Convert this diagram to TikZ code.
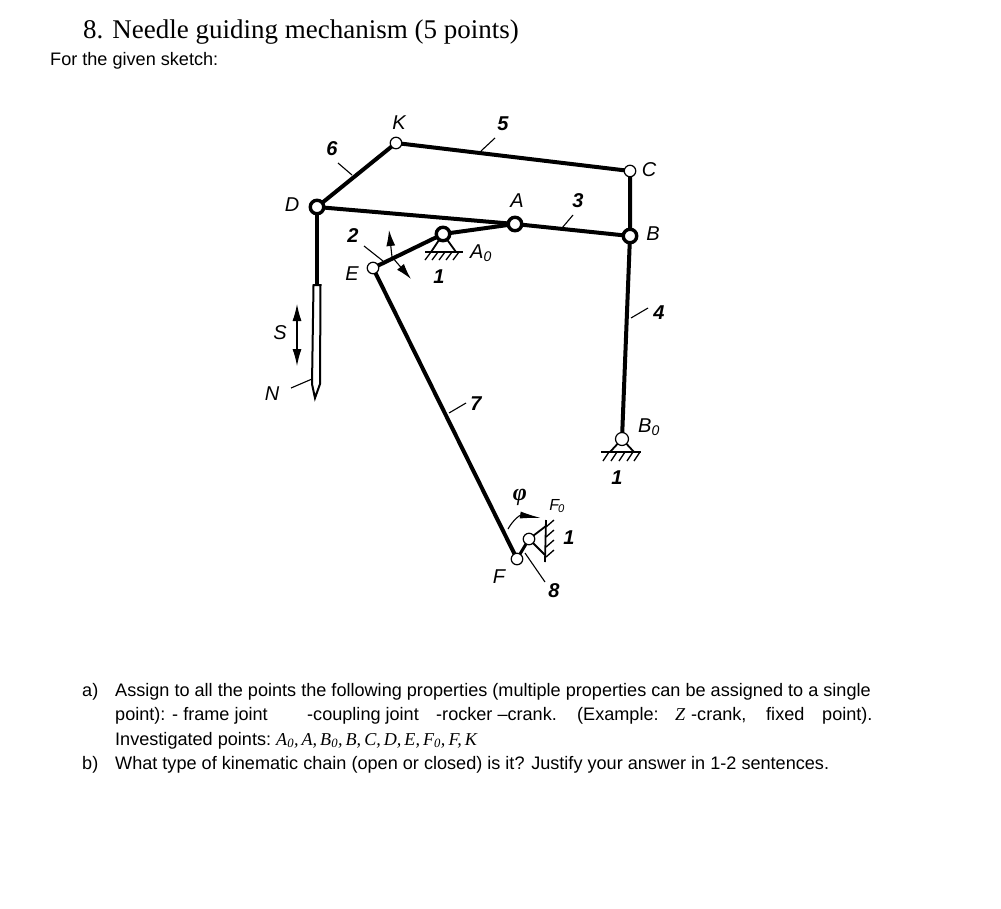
\documentclass[tikz,border=0pt]{standalone}
\usepackage{fontspec}
\setmainfont{Liberation Sans}
\newfontfamily\titlefont{Liberation Serif}
\usetikzlibrary{arrows.meta}
\tikzset{
  link/.style={line width=4pt},
  bar/.style={line width=3pt},
  leader/.style={line width=1.1pt},
  joint/.style={circle,draw,fill=white,inner sep=0pt,minimum size=11.5pt,line width=1.2pt},
  bigjoint/.style={joint,line width=3.4pt,minimum size=13.5pt},
  letter/.style={inner sep=0pt,font=\fontsize{20}{20}\selectfont\itshape},
  num/.style={inner sep=0pt,font=\fontsize{20}{20}\selectfont\bfseries\itshape},
  textline/.style={anchor=base west,inner sep=0pt,font=\fontsize{18.1}{18.1}\selectfont},
  motion/.style={line width=1.1pt,{Latex[length=17pt,width=9pt]}-{Latex[length=17pt,width=9pt]}},
}
\newcommand{\pointname}[1]{{\titlefont\itshape #1}}
\begin{document}
\begin{tikzpicture}[x=1pt,y=-1pt]
\useasboundingbox (0,0) rectangle (1001,908);
\node[textline,font=\titlefont\fontsize{27}{27}\selectfont] (title) at (83,38) {8. Needle guiding mechanism (5 points)};
\node[textline] (given) at (50,65) {For the given sketch:};
% joints
\coordinate (Dp) at (317,207);
\coordinate (Kp) at (396,143);
\coordinate (Cp) at (630,171);
\coordinate (Ap) at (515,224);
\coordinate (Bp) at (630,236);
\coordinate (Aop) at (443,234);
\coordinate (Ep) at (373,268);
\coordinate (Fp) at (517,559);
\coordinate (Fop) at (529,539);
\coordinate (Bop) at (622,439);
\coordinate (needletop) at (317,285);
\coordinate (needletip) at (315,398);
% links
\draw[link] (Dp) -- (Kp) -- (Cp);
\draw[link] (Dp) -- (Ap) -- (Bp);
\draw[link] (Cp) -- (Bp) -- (Bop);
\draw[link] (Aop) -- (Ap);
\draw[link] (Ep) -- (Aop);
\draw[link] (Ep) -- (Fp);
\draw[bar] (Fp) -- (Fop);
\draw[link] (Dp) -- (needletop);
\draw[line width=2pt,fill=white] (313.5,285) -- (320.5,285) -- (320,384) -- (needletip) -- (312,384) -- cycle;
% supports
\draw[line width=1.8pt] (Aop) -- (431,252);
\draw[line width=1.8pt] (Aop) -- (456,252);
\draw[line width=1.8pt] (425,252) -- (463,252);
\foreach \x in {431,438,445,452,459} \draw[line width=1.3pt] (\x,252) -- (\x-6,260);
\draw[line width=1.8pt] (Bop) -- (610,452);
\draw[line width=1.8pt] (Bop) -- (634,452);
\draw[line width=1.8pt] (601,452) -- (641,452);
\foreach \x in {609,617,625,633,640} \draw[line width=1.3pt] (\x,452) -- (\x-6,461);
\draw[line width=1.8pt] (546,520) -- (545,562);
\draw[line width=1.8pt] (Fop) -- (546,526);
\draw[line width=1.8pt] (Fop) -- (545,555);
\foreach \y in {527,537,547,557} \draw[line width=1.3pt] (546,\y) -- (554,\y-7);
\node[bigjoint] (D) at (Dp) {};
\node[joint] (K) at (Kp) {};
\node[joint] (C) at (Cp) {};
\node[bigjoint] (A) at (Ap) {};
\node[bigjoint] (B) at (Bp) {};
\node[bigjoint] (Ao) at (Aop) {};
\node[joint] (E) at (Ep) {};
\node[joint] (F) at (Fp) {};
\node[joint] (Fo) at (Fop) {};
\node[joint,minimum size=13pt] (Bo) at (Bop) {};
% arrows
\draw[motion] (297,304) -- (297,366);
\draw[line width=1.1pt,-{Latex[length=16pt,width=9pt]}] (392,257) -- (389,230);
\draw[line width=1.1pt,-{Latex[length=16pt,width=9pt]}] (392,257) -- (411,279);
\draw[line width=1.1pt,-{Latex[length=21pt,width=7pt]}] (508,529) .. controls (513,520) and (520,515) .. (541,518);
% leaders
\draw[leader] (338,163) -- (352,175);
\draw[leader] (481,151) -- (495,138);
\draw[leader] (562,228) -- (573,215);
\draw[leader] (364,246) -- (383,261);
\draw[leader] (631,318) -- (648,308);
\draw[leader] (449,413) -- (466,403);
\draw[leader] (291,388) -- (312,379);
\draw[leader] (525,553) -- (545,582);
% labels
\node[letter] (lK) at (399,123) {K};
\node[num] (l5) at (503,124) {5};
\node[num] (l6) at (332,149) {6};
\node[letter] (lC) at (649,170) {C};
\node[letter] (lD) at (292,205) {D};
\node[letter] (lA) at (517,201) {A};
\node[num] (l3) at (578,201) {3};
\node[letter] (lB) at (653,234) {B};
\node[num] (l2) at (353,236) {2};
\node[letter] (lE) at (352,274) {E};
\node[letter] (lAo) at (481,253) {A\textsubscript{0}};
\node[num] (l1a) at (439,277) {1};
\node[num] (l4) at (659,313) {4};
\node[letter] (lS) at (280,333) {S};
\node[letter] (lN) at (272,394) {N};
\node[num] (l7) at (476,404) {7};
\node[letter] (lBo) at (649,427) {B\textsubscript{0}};
\node[num] (l1b) at (617,478) {1};
\node[letter,font=\fontsize{24}{24}\selectfont\titlefont\bfseries\itshape] (lphi) at (520,497) {φ};
\node[letter,font=\fontsize{16}{16}\selectfont\itshape] (lFo) at (557,506) {F\kern-1pt\textsubscript{0}};
\node[num] (l1c) at (569,538) {1};
\node[letter] (lF) at (499,577) {F};
\node[num] (l8) at (554,591) {8};
% question text
\node[textline] (qa) at (82,696) {a)};
\node[textline] (qa1) at (115,696) {Assign to all the points the following properties (multiple properties can be assigned to a single};
\node[textline] (qa2) at (115,720) {point): - frame joint};
\node[textline] (qa3) at (307,720) {-coupling joint};
\node[textline] (qa4) at (436,720) {-rocker --crank.};
\node[textline] (qa5) at (577,720) {(Example:};
\node[textline] (qa6) at (675,720) {\pointname{Z}};
\node[textline] (qa7) at (691,720) {-crank,};
\node[textline] (qa8) at (766,720) {fixed};
\node[textline] (qa9) at (822,720) {point).};
\node[textline] (qa10) at (115,745) {Investigated points:};
\node[textline] (qa11) at (276,745) {\pointname{A\textsubscript{0},\,A,\,B\textsubscript{0},\,B,\,C,\,D,\,E,\,F\textsubscript{0},\,F,\,K}};
\node[textline] (qb) at (82,769) {b)};
\node[textline] (qb1) at (115,769) {What type of kinematic chain (open or closed) is it? Justify your answer in 1-2 sentences.};
\end{tikzpicture}
\end{document}
